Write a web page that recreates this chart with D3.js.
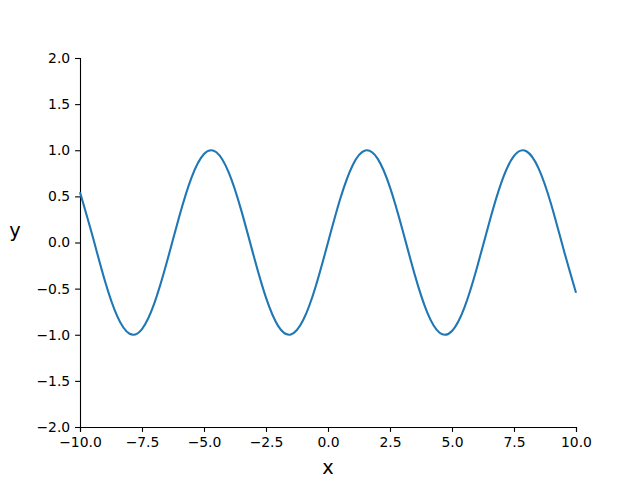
<!DOCTYPE html>
<html>
<head>
<meta charset="utf-8">
<script src="https://cdn.jsdelivr.net/npm/d3@7"></script>
<style>
  body { margin: 0; background: #fff; }
  svg { display: block; font-family: "DejaVu Sans", sans-serif; }
</style>
</head>
<body>
<div id="chart"></div>
<script>
// sample points
const xValues = [-10, -9.5, -9, -8.5, -8, -7.5, -7, -6.5, -6, -5.5, -5, -4.5, -4, -3.5, -3, -2.5, -2, -1.5, -1, -0.5,
  0, 0.5, 1, 1.5, 2, 2.5, 3, 3.5, 4, 4.5, 5, 5.5, 6, 6.5, 7, 7.5, 8, 8.5, 9, 9.5, 10];
const yValues = [0.544, 0.075, -0.412, -0.798, -0.989, -0.938, -0.657, -0.215, 0.279, 0.706, 0.959, 0.978, 0.757, 0.351, -0.141, -0.598, -0.909, -0.997, -0.841, -0.479,
  0, 0.479, 0.841, 0.997, 0.909, 0.598, 0.141, -0.351, -0.757, -0.978, -0.959, -0.706, -0.279, 0.215, 0.657, 0.938, 0.989, 0.798, 0.412, -0.075, -0.544];
const xTicks = [-10, -7.5, -5, -2.5, 0, 2.5, 5, 7.5, 10];
const yTicks = [-2, -1.5, -1, -0.5, 0, 0.5, 1, 1.5, 2];

const width = 640, height = 480;
const margin = { top: 58, right: 64, bottom: 53, left: 80 };

const svg = d3.select('#chart').append('svg')
  .attr('width', width)
  .attr('height', height);

const xScale = d3.scaleLinear().domain([-10, 10]).range([margin.left, width - margin.right]);
const yScale = d3.scaleLinear().domain([-2, 2]).range([height - margin.bottom, margin.top]);

const fmt = v => d3.format('.1f')(v).replace('-', '\u2212');

const xAxis = d3.axisBottom(xScale).tickValues(xTicks).tickFormat(fmt).tickSizeOuter(0).tickSize(4.9).tickPadding(4.9);
const yAxis = d3.axisLeft(yScale).tickValues(yTicks).tickFormat(fmt).tickSizeOuter(0).tickSize(4.9).tickPadding(4.9);

const gx = svg.append('g')
  .attr('transform', `translate(0, ${height - margin.bottom})`)
  .call(xAxis);
const gy = svg.append('g')
  .attr('transform', `translate(${margin.left}, 0)`)
  .call(yAxis);

[gx, gy].forEach(g => {
  g.selectAll('text').attr('font-size', 13.9).attr('font-family', '"DejaVu Sans", sans-serif').attr('fill', '#000');
  g.selectAll('line, path').attr('stroke', '#000').attr('stroke-width', 1.1);
});

/* curve */
const line = d3.line()
  .x((d, i) => xScale(xValues[i]))
  .y(d => yScale(d))
  .curve(d3.curveNatural);

svg.append('path')
  .datum(yValues)
  .attr('fill', 'none')
  .attr('stroke', '#1f77b4')
  .attr('stroke-width', 2.1)
  .attr('d', line);

/* axis labels */
svg.append('text')
  .attr('x', (margin.left + width - margin.right) / 2)
  .attr('y', 474)
  .attr('text-anchor', 'middle')
  .attr('font-size', 19.4)
  .text('x');

svg.append('text')
  .attr('x', 15)
  .attr('y', 237)
  .attr('text-anchor', 'middle')
  .attr('font-size', 19.4)
  .text('y');
</script>
</body>
</html>
